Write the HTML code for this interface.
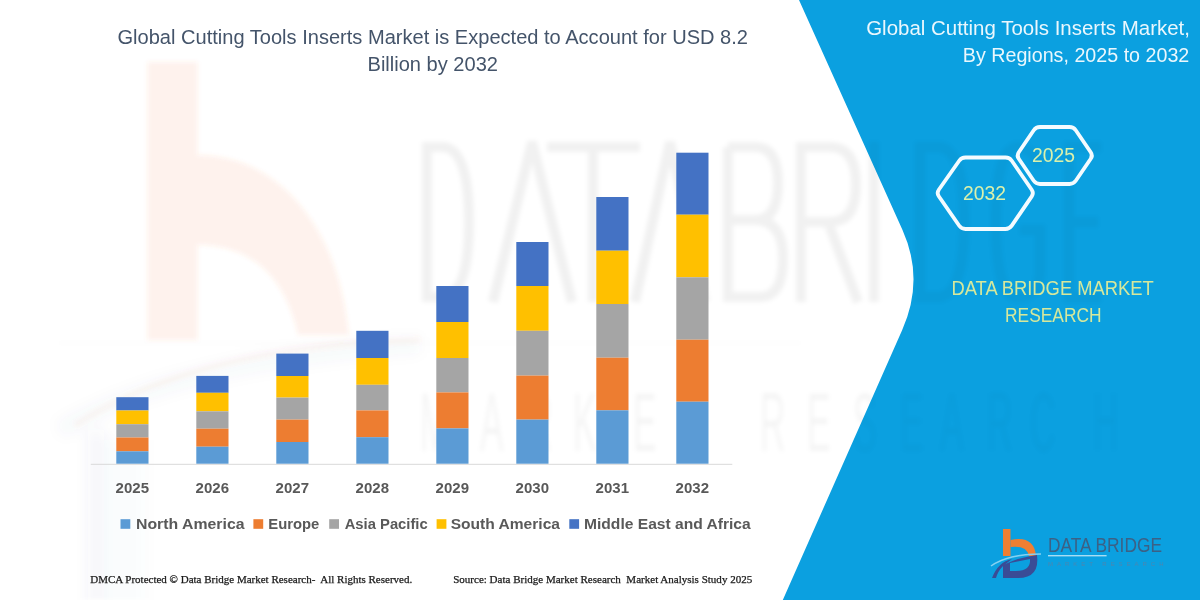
<!DOCTYPE html>
<html><head><meta charset="utf-8"><style>
html,body{margin:0;padding:0;background:#fff;}
body{width:1200px;height:600px;overflow:hidden;position:relative;}
svg{position:absolute;left:0;top:0;display:block;}
text{font-family:"Liberation Sans",sans-serif;}
</style></head><body>
<svg width="1200" height="600" viewBox="0 0 1200 600">
<defs>
<clipPath id="pc"><path d="M799,0 L902.5,230 Q924.7,279.3 902.2,330 L782.8,600 L1200,600 L1200,0 Z"/></clipPath>
<filter id="bl" filterUnits="userSpaceOnUse" x="0" y="0" width="1200" height="600"><feGaussianBlur stdDeviation="2"/></filter>
<filter id="bl6" filterUnits="userSpaceOnUse" x="0" y="0" width="1200" height="600"><feGaussianBlur stdDeviation="7"/></filter>
</defs>
<rect width="1200" height="600" fill="#ffffff"/>
<!-- faint logo watermark -->
<g filter="url(#bl)">
<path d="M147.5,62 H197.5 V155 C280,155 340,230 349,335 L298,335 C285,275 250,245 197.5,245 V340 H147.5 Z" fill="#F07F32" opacity="0.09"/>
<path d="M75,425 Q200,345 420,340" fill="none" stroke="#F07F32" stroke-width="6" opacity="0.05"/>
<g filter="url(#bl6)">
<path d="M60,430 Q180,360 420,345" fill="none" stroke="#3B4E9A" stroke-width="16" opacity="0.035"/>
<path d="M96,620 V430" fill="none" stroke="#3B4E9A" stroke-width="16" opacity="0.05"/>
<path d="M125,620 V440" fill="none" stroke="#3B4E9A" stroke-width="40" opacity="0.02"/>
</g>
<rect x="60" y="342" width="740" height="2" fill="#000" opacity="0.015"/>
<g fill="none" stroke="#000" stroke-opacity="0.055" stroke-width="10"><path d="M427,147 H442 Q469,147 469,222 Q469,297 442,297 H427 Z"/>
<path d="M493,302 L532,142 L572,302"/>
<path d="M547,147 H640 M593,147 V302"/>
<path d="M635,302 L670,142 L705,302"/>
<path d="M728,147 V297 H760 Q783,297 783,258 Q783,222 757,220 H728 M728,147 H755 Q778,147 778,183 Q778,220 755,220"/>
<path d="M801,302 V147 H830 Q856,147 856,185 Q856,222 830,222 H801 M828,222 L858,302"/>
<path d="M874,142 V302"/>
<path d="M920,147 H938 Q964,147 964,222 Q964,297 938,297 H920 Z"/>
<path d="M1040,165 Q1030,147 1018,147 Q996,147 996,222 Q996,297 1018,297 Q1040,297 1040,270 V230 H1020"/>
<path d="M1101,147 H1069 V297 H1101 M1069,222 H1098"/></g>
<g fill="#000" fill-opacity="0.038" font-size="84"><text transform="translate(420,451) scale(0.42,1)">M</text><text transform="translate(480,451) scale(0.42,1)">A</text><text transform="translate(527,451) scale(0.42,1)">R</text><text transform="translate(573,451) scale(0.42,1)">K</text><text transform="translate(633,451) scale(0.42,1)">E</text><text transform="translate(680,451) scale(0.42,1)">T</text><text transform="translate(760,451) scale(0.42,1)">R</text><text transform="translate(807,451) scale(0.42,1)">E</text><text transform="translate(853,451) scale(0.42,1)">S</text><text transform="translate(900,451) scale(0.42,1)">E</text><text transform="translate(940,451) scale(0.42,1)">A</text><text transform="translate(987,451) scale(0.42,1)">R</text><text transform="translate(1030,451) scale(0.42,1)">C</text><text transform="translate(1093,451) scale(0.42,1)">H</text></g>
</g>
<!-- blue panel -->
<path d="M799,0 L902.5,230 Q924.7,279.3 902.2,330 L782.8,600 L1200,600 L1200,0 Z" fill="#0BA0E0"/>
<g clip-path="url(#pc)"><g filter="url(#bl)"><g fill="none" stroke="#000" stroke-opacity="0.03" stroke-width="10"><path d="M427,147 H442 Q469,147 469,222 Q469,297 442,297 H427 Z"/>
<path d="M493,302 L532,142 L572,302"/>
<path d="M547,147 H640 M593,147 V302"/>
<path d="M635,302 L670,142 L705,302"/>
<path d="M728,147 V297 H760 Q783,297 783,258 Q783,222 757,220 H728 M728,147 H755 Q778,147 778,183 Q778,220 755,220"/>
<path d="M801,302 V147 H830 Q856,147 856,185 Q856,222 830,222 H801 M828,222 L858,302"/>
<path d="M874,142 V302"/>
<path d="M920,147 H938 Q964,147 964,222 Q964,297 938,297 H920 Z"/>
<path d="M1040,165 Q1030,147 1018,147 Q996,147 996,222 Q996,297 1018,297 Q1040,297 1040,270 V230 H1020"/>
<path d="M1101,147 H1069 V297 H1101 M1069,222 H1098"/></g>
<g fill="#000" fill-opacity="0.021" font-size="84"><text transform="translate(420,451) scale(0.42,1)">M</text><text transform="translate(480,451) scale(0.42,1)">A</text><text transform="translate(527,451) scale(0.42,1)">R</text><text transform="translate(573,451) scale(0.42,1)">K</text><text transform="translate(633,451) scale(0.42,1)">E</text><text transform="translate(680,451) scale(0.42,1)">T</text><text transform="translate(760,451) scale(0.42,1)">R</text><text transform="translate(807,451) scale(0.42,1)">E</text><text transform="translate(853,451) scale(0.42,1)">S</text><text transform="translate(900,451) scale(0.42,1)">E</text><text transform="translate(940,451) scale(0.42,1)">A</text><text transform="translate(987,451) scale(0.42,1)">R</text><text transform="translate(1030,451) scale(0.42,1)">C</text><text transform="translate(1093,451) scale(0.42,1)">H</text></g></g></g>
<!-- title -->
<g fill="#44546A" font-size="20.5">
<text x="117.5" y="43.7" textLength="630.5" lengthAdjust="spacingAndGlyphs">Global Cutting Tools Inserts Market is Expected to Account for USD 8.2</text>
<text x="367.5" y="70.7" textLength="130.5" lengthAdjust="spacingAndGlyphs">Billion by 2032</text>
</g>
<!-- axis -->
<rect x="90.8" y="463.8" width="641.5" height="1" fill="#D9D9D9"/>
<rect x="116.3" y="397.2" width="32.2" height="13.3" fill="#4472C4"/><rect x="116.3" y="410.5" width="32.2" height="13.7" fill="#FFC000"/><rect x="116.3" y="424.2" width="32.2" height="13.3" fill="#A5A5A5"/><rect x="116.3" y="437.5" width="32.2" height="13.8" fill="#ED7D31"/><rect x="116.3" y="451.3" width="32.2" height="12.4" fill="#5B9BD5"/><rect x="196.3" y="375.9" width="32.2" height="16.9" fill="#4472C4"/><rect x="196.3" y="392.8" width="32.2" height="18.5" fill="#FFC000"/><rect x="196.3" y="411.3" width="32.2" height="17.4" fill="#A5A5A5"/><rect x="196.3" y="428.7" width="32.2" height="18.0" fill="#ED7D31"/><rect x="196.3" y="446.7" width="32.2" height="17.0" fill="#5B9BD5"/><rect x="276.3" y="353.6" width="32.2" height="22.4" fill="#4472C4"/><rect x="276.3" y="376.0" width="32.2" height="21.6" fill="#FFC000"/><rect x="276.3" y="397.6" width="32.2" height="22.0" fill="#A5A5A5"/><rect x="276.3" y="419.6" width="32.2" height="22.4" fill="#ED7D31"/><rect x="276.3" y="442.0" width="32.2" height="21.7" fill="#5B9BD5"/><rect x="356.3" y="330.8" width="32.2" height="27.2" fill="#4472C4"/><rect x="356.3" y="358.0" width="32.2" height="26.8" fill="#FFC000"/><rect x="356.3" y="384.8" width="32.2" height="25.6" fill="#A5A5A5"/><rect x="356.3" y="410.4" width="32.2" height="26.8" fill="#ED7D31"/><rect x="356.3" y="437.2" width="32.2" height="26.5" fill="#5B9BD5"/><rect x="436.3" y="286.0" width="32.2" height="36.0" fill="#4472C4"/><rect x="436.3" y="322.0" width="32.2" height="36.0" fill="#FFC000"/><rect x="436.3" y="358.0" width="32.2" height="34.4" fill="#A5A5A5"/><rect x="436.3" y="392.4" width="32.2" height="36.0" fill="#ED7D31"/><rect x="436.3" y="428.4" width="32.2" height="35.3" fill="#5B9BD5"/><rect x="516.3" y="242.0" width="32.2" height="44.0" fill="#4472C4"/><rect x="516.3" y="286.0" width="32.2" height="44.8" fill="#FFC000"/><rect x="516.3" y="330.8" width="32.2" height="44.8" fill="#A5A5A5"/><rect x="516.3" y="375.6" width="32.2" height="44.0" fill="#ED7D31"/><rect x="516.3" y="419.6" width="32.2" height="44.1" fill="#5B9BD5"/><rect x="596.3" y="197.0" width="32.2" height="53.7" fill="#4472C4"/><rect x="596.3" y="250.7" width="32.2" height="53.3" fill="#FFC000"/><rect x="596.3" y="304.0" width="32.2" height="53.7" fill="#A5A5A5"/><rect x="596.3" y="357.7" width="32.2" height="52.6" fill="#ED7D31"/><rect x="596.3" y="410.3" width="32.2" height="53.4" fill="#5B9BD5"/><rect x="676.3" y="152.7" width="32.2" height="62.0" fill="#4472C4"/><rect x="676.3" y="214.7" width="32.2" height="62.6" fill="#FFC000"/><rect x="676.3" y="277.3" width="32.2" height="62.4" fill="#A5A5A5"/><rect x="676.3" y="339.7" width="32.2" height="62.0" fill="#ED7D31"/><rect x="676.3" y="401.7" width="32.2" height="62.0" fill="#5B9BD5"/>
<g fill="#595959" font-size="15" font-weight="bold">
<text x="132.3" y="492.8" text-anchor="middle">2025</text><text x="212.3" y="492.8" text-anchor="middle">2026</text><text x="292.3" y="492.8" text-anchor="middle">2027</text><text x="372.3" y="492.8" text-anchor="middle">2028</text><text x="452.3" y="492.8" text-anchor="middle">2029</text><text x="532.3" y="492.8" text-anchor="middle">2030</text><text x="612.3" y="492.8" text-anchor="middle">2031</text><text x="692.3" y="492.8" text-anchor="middle">2032</text>
</g>
<g fill="#595959" font-size="14" font-weight="bold">
<rect x="120.5" y="519.2" width="9.8" height="9.6" fill="#5B9BD5"/><text x="136.0" y="528.7" textLength="108.5" lengthAdjust="spacingAndGlyphs">North America</text><rect x="253.4" y="519.2" width="9.8" height="9.6" fill="#ED7D31"/><text x="268.3" y="528.7" textLength="51" lengthAdjust="spacingAndGlyphs">Europe</text><rect x="329.2" y="519.2" width="9.8" height="9.6" fill="#A5A5A5"/><text x="344.7" y="528.7" textLength="83" lengthAdjust="spacingAndGlyphs">Asia Pacific</text><rect x="436.6" y="519.2" width="9.8" height="9.6" fill="#FFC000"/><text x="450.7" y="528.7" textLength="109.3" lengthAdjust="spacingAndGlyphs">South America</text><rect x="569.3" y="519.2" width="9.8" height="9.6" fill="#4472C4"/><text x="584.0" y="528.7" textLength="166.7" lengthAdjust="spacingAndGlyphs">Middle East and Africa</text>
</g>
<g fill="#1a1a1a" font-size="11" stroke="#1a1a1a" stroke-width="0.25">
<text x="90.2" y="583" textLength="322" lengthAdjust="spacingAndGlyphs" xml:space="preserve" style="font-family:'Liberation Serif',serif">DMCA Protected © Data Bridge Market Research-  All Rights Reserved.</text>
<text x="453.2" y="583" textLength="299" lengthAdjust="spacingAndGlyphs" xml:space="preserve" style="font-family:'Liberation Serif',serif">Source: Data Bridge Market Research  Market Analysis Study 2025</text>
</g>
<!-- right title -->
<g fill="#EAF7FD" font-size="20.5">
<text x="866.2" y="34.8" textLength="323.8" lengthAdjust="spacingAndGlyphs">Global Cutting Tools Inserts Market,</text>
<text x="962.8" y="61.9" textLength="226.5" lengthAdjust="spacingAndGlyphs">By Regions, 2025 to 2032</text>
</g>
<!-- hexagons -->
<g fill="none" stroke="#F4FBFF" stroke-width="3.8">
<path d="M938.78,196.29 Q936.50,193.00 938.80,189.73 L959.20,160.77 Q961.50,157.50 965.50,157.50 L1005.50,157.50 Q1009.50,157.50 1011.77,160.79 L1031.73,189.71 Q1034.00,193.00 1031.75,196.31 L1011.75,225.69 Q1009.50,229.00 1005.50,229.00 L965.50,229.00 Q961.50,229.00 959.22,225.71 Z"/>
<path d="M1018.76,158.80 Q1016.50,155.50 1018.76,152.20 L1033.74,130.30 Q1036.00,127.00 1040.00,127.00 L1069.50,127.00 Q1073.50,127.00 1075.76,130.30 L1090.74,152.20 Q1093.00,155.50 1090.74,158.80 L1075.76,180.70 Q1073.50,184.00 1069.50,184.00 L1040.00,184.00 Q1036.00,184.00 1033.74,180.70 Z"/>
</g>
<g fill="#DAF1AC" font-size="20">
<text x="963" y="200" textLength="43" lengthAdjust="spacingAndGlyphs">2032</text>
<text x="1032" y="161.8" textLength="43" lengthAdjust="spacingAndGlyphs">2025</text>
</g>
<g fill="#D6E89C" font-size="20">
<text x="951.4" y="294.8" textLength="202.4" lengthAdjust="spacingAndGlyphs">DATA BRIDGE MARKET</text>
<text x="1005.1" y="321.9" textLength="96.4" lengthAdjust="spacingAndGlyphs">RESEARCH</text>
</g>
<!-- logo -->
<g>
<rect x="1003" y="529" width="7.5" height="27" fill="#F07F32"/>
<path d="M1010.5,540 Q1034,535 1036,556 L1029,556 Q1027,545 1010.5,547 Z" fill="#F07F32"/>
<path d="M1003,565 Q1020,557 1037,555 Q1040,578 1018,578 L1003,578 Z M1010,563 L1030,559 Q1031,571 1016,571 L1010,571 Z" fill="#3A4C96" fill-rule="evenodd"/>
<path d="M992,578 Q998,562 1012,559 L1003,566 Q998,571 996,578 Z" fill="#3A4C96"/>
<path d="M991,566 Q1008,554 1041,554" fill="none" stroke="#86D0F0" stroke-width="1.5"/>
<text x="1048" y="552.2" font-size="20.5" textLength="114" lengthAdjust="spacingAndGlyphs" fill="#3B6186">DATA BRIDGE</text>
<rect x="1048" y="555" width="58.6" height="1.4" fill="#A9DDF3"/>
<text x="1048" y="565.8" font-size="6" textLength="115.5" lengthAdjust="spacing" fill="#4C86B0">MARKET RESEARCH</text>
</g>
</svg>
</body></html>
